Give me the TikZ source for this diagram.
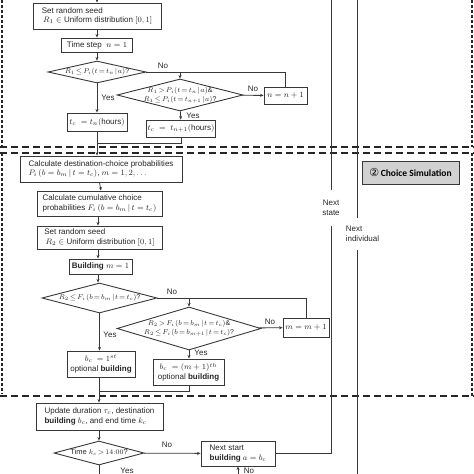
\documentclass[tikz,border=0pt]{standalone}
\usepackage{fontspec}
\setmainfont{Liberation Sans}
\newfontfamily\carlito{Carlito}
\newfontfamily\dejavu{DejaVu Sans}
\usetikzlibrary{shapes.geometric,arrows.meta}
\newcommand{\dtxt}[1]{\makebox[0pt]{\thickmuskip=2.5mu\medmuskip=1.5mu\thinmuskip=1.5mu\renewcommand\arraystretch{1.0}\begin{tabular}{@{}c@{}}#1\end{tabular}}}
\newcommand{\fs}{\fontsize{8}{9.5}\selectfont}
\newcommand{\fd}{\fontsize{6.9}{8.6}\selectfont}
\definecolor{lc}{gray}{0.22}
\definecolor{tc}{gray}{0.15}
\begin{document}
\begin{tikzpicture}[x=1pt,y=-1pt,
  box/.style={draw=lc, line width=0.9pt, fill=white, inner sep=1.5pt, align=center, font=\fs, text=tc},
  dia/.style={diamond, draw=lc, line width=0.9pt, inner sep=0pt, font=\fd, text=tc},
  arr/.style={-{Stealth[length=3.5pt,width=3pt]}, line width=0.8pt, draw=lc},
  ln/.style={line width=0.8pt, draw=lc},
  lbl/.style={font=\fs, inner sep=0pt, text=tc},
  secH/.style={line width=1.4pt, dash pattern=on 7pt off 4pt, draw=black!85},
  secV/.style={line width=2pt, dash pattern=on 3pt off 2pt, draw=black!85}]
\useasboundingbox (0,0) rectangle (474,474);

% section frames
\draw[secV] (2,0) -- (2,147);
\draw[secV] (472,0) -- (472,147);
\draw[secH] (0,147) -- (474,147);
\draw[secH] (0,153) -- (474,153);
\draw[secV] (2,153) -- (2,394);
\draw[secV] (472,153) -- (472,396);
\draw[secH] (0,396) -- (474,396);

% nodes: section 1
\coordinate (top) at (97,0);
\node[box, minimum width=128, minimum height=26, align=left] (seed1) at (97,16)
  {Set random seed\\ \,$R_1 \in \mathrm{Uniform\ distribution}\ [0,1]$};
\node[box, minimum width=71, minimum height=14] (step1) at (97,45) {Time step\ \ $n = 1$};
\node[dia, minimum width=98, minimum height=22] (d1) at (97,72)
  {\dtxt{$R_1 \le P_i(t = t_n\,|\,a)$?}};
\node[dia, minimum width=126, minimum height=32] (d2) at (180,95)
  {\dtxt{$R_1 > P_i(t = t_n\,|\,a)$\&\\ $R_1 \le P_i(t = t_{n+1}\,|\,a)$?}};
\node[box, minimum width=43, minimum height=17] (nn1) at (285.5,95.5) {$n = n + 1$};
\node[box, minimum width=60, minimum height=18] (tc1) at (97,122) {$t_c\ = t_n(\mathrm{hours})$};
\node[box, minimum width=69, minimum height=17] (tc2) at (181,128.5) {$t_c\ =\ t_{n+1}(\mathrm{hours})$};

% section 2
\node[box, minimum width=162, minimum height=26, align=left] (calc1) at (101,169)
  {Calculate destination-choice probabilities\\ $P_i\,(b = b_m\,|\,t = t_c)$, $m = 1, 2, \ldots$};
\node[box, minimum width=125, minimum height=25, align=left] (calc2) at (99.5,203.5)
  {Calculate cumulative choice\\ probabilities $F_i\,(b = b_m\,|\,t = t_c)$};
\node[box, minimum width=125, minimum height=23, align=left] (seed2) at (99.5,237.5)
  {Set random seed\\ \,$R_2 \in \mathrm{Uniform\ distribution}\ [0,1]$};
\node[box, minimum width=63, minimum height=15] (bm1) at (100.5,266.5) {\textbf{Building} $m = 1$};
\node[dia, minimum width=115, minimum height=30] (d3) at (99.5,298)
  {\dtxt{$R_2 \le F_i\,(b = b_m\,|\,t = t_c)$?}};
\node[dia, minimum width=144, minimum height=43] (d4) at (189,328.5)
  {\dtxt{$R_2 > F_i\,(b = b_m\,|\,t = t_c)$\&\\ $R_2 \le F_i\,(b = b_{m+1}\,|\,t = t_c)$?}};
\node[box, minimum width=46, minimum height=19] (mm1) at (306,327.5) {$m = m + 1$};
\node[box, minimum width=68, minimum height=26] (bc1) at (101,364)
  {$b_c\ = 1^{st}$\\ optional \textbf{building}};
\node[box, minimum width=71, minimum height=26] (bc2) at (188.5,372)
  {$b_c\ = (m+1)^{th}$\\ optional \textbf{building}};
\node[draw=lc, line width=0.9pt, fill=black!18, minimum width=97, minimum height=23, inner sep=1pt] (choice) at (410.5,172.5)
  {{\dejavu\fontsize{11}{11}\selectfont ②}\,{\carlito\bfseries\fontsize{9.5}{10}\selectfont Choice Simulation}};

% bottom
\node[box, minimum width=127, minimum height=27, align=left] (upd) at (99.5,416.5)
  {Update duration $\tau_c$, destination\\ \textbf{building} $b_c$, and end time $k_c$};
\node[dia, minimum width=90, minimum height=24, font=\fontsize{7.5}{8.5}\selectfont] (d5) at (99,453)
  {\dtxt{Time $k_c > 14{:}00$?}};
\node[box, minimum width=74, minimum height=25, align=left] (nsb) at (238,453.5)
  {Next start\\ \textbf{building} $a = b_c$};
\coordinate (bot5) at (99,474);
\coordinate (botn) at (238,474);

% loop labels
\node[lbl, align=center, minimum height=36] (ns) at (331,208) {Next\\state};
\node[lbl, align=left, minimum height=32] (ni) at (362.5,234) {Next\\individual};

% connectors section 1
\draw[arr] (top) -- (seed1);
\draw[arr] (seed1) -- (step1);
\draw[arr] (step1) -- (d1);
\draw[arr] (d1) -- (tc1);
\draw[ln] (d1.east) -- (d1.east -| nn1.north) -- (nn1.north);
\draw[arr] (d1.east -| d2.north) -- (d2.north);
\draw[arr] (d2) -- (nn1);
\draw[arr] (d2) -- (tc2);
\draw[ln] (tc2.south) -- (181,143) -- (97,143);
\draw[arr] (tc1.south) -- (tc1.south |- calc1.north);

% connectors section 2
\draw[arr] (calc1.south -| calc2.north) -- (calc2.north -| calc1.south);
\draw[arr] (calc2.south -| 98,0) -- (seed2.north -| 98,0);
\draw[arr] (seed2.south -| 98,0) -- (bm1.north -| 98,0);
\draw[arr] (bm1.south -| 98,0) -- (d3.north -| 98,0);
\draw[arr] (d3) -- (bc1.north -| d3.south);
\draw[ln] (d3.east) -- (d3.east -| mm1.north) -- (mm1.north);
\draw[arr] (d3.east -| d4.north) -- (d4.north);
\draw[arr] (d4) -- (mm1);
\draw[arr] (d4) -- (bc2.north -| d4.south);
\draw[ln] (bc2.south -| d4.south) -- (189,391) -- (99,391);
\draw[arr] (bc1.south -| 99,0) -- (upd.north -| 99,0);
\draw[arr] (upd.south -| d5.north) -- (d5.north);
\draw[arr] (d5) -- (nsb);
\draw[ln] (d5) -- (bot5);
\draw[arr] (botn) -- (nsb);

% loops
\draw[ln] (nsb.east) -- (nsb.east -| ns.south) -- (ns.south);
\draw[ln] (ns.north) -- (331,0);
\draw[ln] (357,474) -- (ni.south -| 357,0);
\draw[ln] (ni.north -| 357,0) -- (357,0);

% yes/no labels
\node[lbl] (l1) at (163,66) {No};
\node[lbl] (l2) at (108,98) {Yes};
\node[lbl] (l3) at (253,89) {No};
\node[lbl] (l4) at (193,116) {Yes};
\node[lbl] (l5) at (172,292) {No};
\node[lbl] (l6) at (110,335) {Yes};
\node[lbl] (l7) at (270,322) {No};
\node[lbl] (l8) at (201,353) {Yes};
\node[lbl] (l9) at (167,445) {No};
\node[lbl] (l10) at (127,471) {Yes};
\node[lbl] (l11) at (249,471) {No};
\end{tikzpicture}
\end{document}
